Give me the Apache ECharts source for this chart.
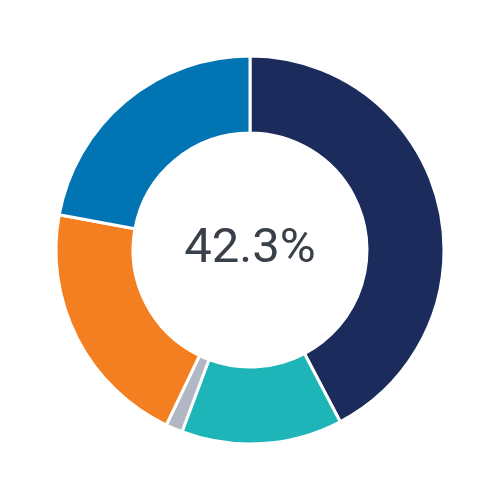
<!DOCTYPE html>
<html>
<head>
<meta charset="utf-8" />
<title>donut</title>
<script src="https://cdn.jsdelivr.net/npm/echarts@6/dist/echarts.min.js"></script>
<style>
  html, body { margin: 0; padding: 0; background: #fff; }
  #chart { width: 500px; height: 500px; }
</style>
</head>
<body>
<div id="chart"></div>
<script>
// slice names and shares (percent), clockwise from the top
var names = ['A', 'B', 'C', 'D', 'E'];
var values = [42.3, 13.4, 1.4, 20.8, 22.1];
var colors = ['#1b2b5b', '#1db5b7', '#b1b8c4', '#f37f21', '#0174b4'];
var centerLabel = '42.3%';

var myChart = echarts.init(document.getElementById('chart'));
var data = [];
for (var i = 0; i < values.length; i++) {
  data.push({ name: names[i], value: values[i], itemStyle: { color: colors[i] } });
}

myChart.setOption({
  animation: false,
  title: {
    text: centerLabel,
    left: 'center',
    top: 'middle',
    textStyle: { fontFamily: 'Roboto', fontSize: 49, fontWeight: 'normal', color: '#3a4049' }
  },
  series: [{
    type: 'pie',
    center: [250, 250],
    radius: [117, 194],
    startAngle: 90,
    clockwise: true,
    label: { show: false },
    labelLine: { show: false },
    itemStyle: { borderColor: '#fff', borderWidth: 3 },
    data: data
  }]
});
</script>
</body>
</html>
